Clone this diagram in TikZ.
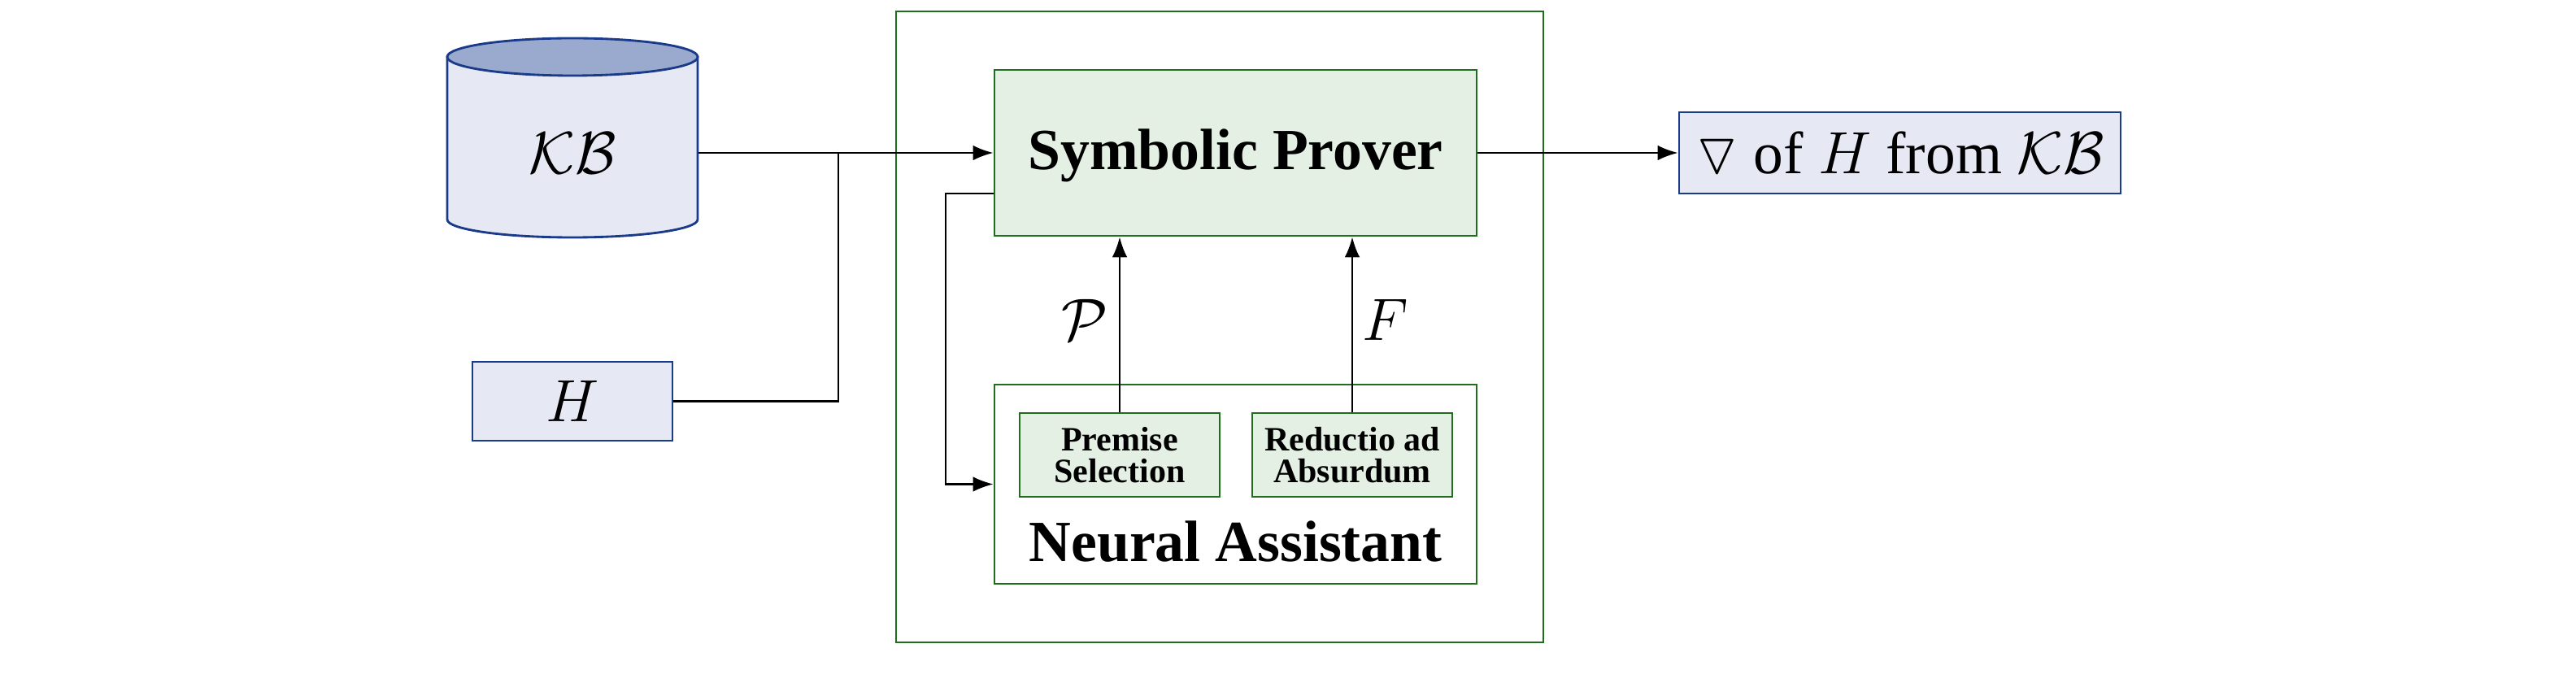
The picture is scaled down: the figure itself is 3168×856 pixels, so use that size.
\RequirePackage{fix-cm}
\documentclass[tikz,border=0pt]{standalone}
\usepackage{amssymb}
\usepackage{fontspec}
\setmainfont{Liberation Serif}
\usetikzlibrary{arrows.meta}
\definecolor{navy}{HTML}{1A3A8A}
\definecolor{cyltop}{HTML}{9AAACF}
\definecolor{bluefill}{HTML}{E6E9F4}
\definecolor{dgreen}{HTML}{1E6E1E}
\definecolor{gfill}{HTML}{E5F0E5}
\tikzset{
  bluebox/.style={draw=navy, fill=bluefill, line width=0.85pt, inner sep=0pt},
  greenbox/.style={draw=dgreen, fill=gfill, line width=0.85pt, inner sep=0pt},
  bigfont/.style={font=\fontsize{22}{26}\selectfont},
  bigbold/.style={font=\fontsize{21.5}{26}\selectfont\bfseries},
  smallbold/.style={font=\fontsize{12.6}{11.7}\selectfont\bfseries},
  conn/.style={line width=0.75pt, black},
  arr/.style={conn, -{Latex[length=7.5pt,width=5.6pt]}}
}
\begin{document}
\begin{tikzpicture}[x=0.3pt,y=-0.3pt]
\useasboundingbox (0,0) rectangle (3168,856);
\fill[white] (0,0) rectangle (3168,856);
% cylinder KB
\draw[navy, line width=0.85pt, fill=bluefill] (550,70) -- (550,270)
  arc[start angle=180, end angle=360, x radius=46.2pt, y radius=6.6pt] -- (858,70) -- cycle;
\draw[navy, line width=0.85pt, fill=cyltop] (704,70) ellipse [x radius=46.2pt, y radius=6.9pt];
\node[bigfont, minimum width=92.4pt, inner sep=0pt] (kb) at (704,188) {$\mathcal{KB}$};
% H
\node[bluebox, bigfont, minimum width=73.8pt, minimum height=29.1pt] (h) at (704,493.5) {$H$};
% outer container
\node[draw=dgreen, line width=0.85pt, inner sep=0pt, minimum width=238.8pt, minimum height=232.8pt] (outer) at (1500,402) {};
% symbolic prover
\node[greenbox, bigbold, text height=15pt, text depth=2.4pt, minimum width=177.9pt, minimum height=61.2pt] (sp) at (1519.5,188) {Symbolic Prover};
% neural assistant
\node[draw=dgreen, fill=white, line width=0.85pt, inner sep=0pt, minimum width=177.9pt, minimum height=73.5pt] (na) at (1519.5,595.5) {};
\node[bigbold, anchor=base, inner sep=0pt] (nalabel) at (1519.5,691) {Neural Assistant};
\node[greenbox, smallbold, align=center, minimum width=73.8pt, minimum height=30.9pt] (ps) at (1377,559.5) {Premise\\Selection};
\node[greenbox, smallbold, align=center, minimum width=73.8pt, minimum height=30.9pt] (ra) at (1663,559.5) {Reductio ad\\Absurdum};
% labels
\node[bigfont, inner sep=0pt] (plab) at (1334,393) {$\mathcal{P}$};
\node[bigfont, inner sep=0pt] (flab) at (1704,393) {$F$};
% output
\node[bluebox, bigfont, minimum width=162.9pt, minimum height=30pt] (out) at (2336.5,188) {$\triangledown$ of $H$ from $\mathcal{KB}$};
% connectors
\coordinate (j) at (1031,188);
\coordinate (fb) at (1163,238);
\draw[conn] (h.east) -| (j);
\draw[arr] (kb.east) -- (sp.west);
\draw[arr] (sp.east) -- (out.west);
\draw[arr] (ps.north) -- (ps.north |- sp.south);
\draw[arr] (ra.north) -- (ra.north |- sp.south);
\draw[arr] (sp.west |- fb) -- (fb) |- (na.west);
\end{tikzpicture}
\end{document}
